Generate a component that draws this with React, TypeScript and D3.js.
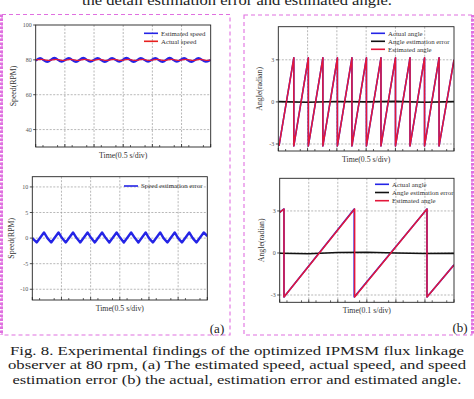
import React from 'react';
import * as d3 from 'd3';

const W = 474;
const H = 399;
const SERIF = '"Liberation Serif", "Times New Roman", serif';
const PI = 3.14;

// (a) top: speed, time in s (0.5 s/div)
const speedTicks = [40, 60, 80, 100];
const estimatedSpeed: [number, number][] = [
  [0, 79.6], [0.074, 81], [0.197, 78.8], [0.321, 81.1], [0.444, 78.9], [0.568, 81],
  [0.691, 78.8], [0.815, 81.1], [0.938, 78.9], [1.062, 81], [1.185, 78.8], [1.309, 81],
  [1.432, 78.9], [1.556, 81.1], [1.679, 78.8], [1.803, 81], [1.926, 78.9], [2.05, 81],
  [2.173, 78.8], [2.297, 81.1], [2.42, 78.9], [2.544, 81], [2.667, 78.8], [2.791, 81],
  [2.914, 78.9], [3, 80],
];
const actualSpeed: [number, number][] = [
  [0, 80], [0.1, 80.3], [0.22, 79.7], [0.35, 80.3], [0.47, 79.7], [0.6, 80.3],
  [0.72, 79.7], [0.84, 80.3], [0.97, 79.7], [1.09, 80.3], [1.21, 79.7], [1.34, 80.3],
  [1.46, 79.7], [1.58, 80.3], [1.71, 79.7], [1.83, 80.3], [1.95, 79.7], [2.08, 80.3],
  [2.2, 79.7], [2.33, 80.3], [2.45, 79.7], [2.57, 80.3], [2.7, 79.7], [2.82, 80.3],
  [2.94, 79.7], [3, 80],
];

// (a) bottom: speed estimation error
const errTicks = [-10, -5, 0, 5, 10];
const speedError: [number, number][] = [
  [0, 0], [0.075, -0.85], [0.2, 1.1], [0.26, 0], [0.324, -0.85], [0.449, 1.1], [0.51, 0], [0.573, -0.85],
  [0.698, 1.1], [0.76, 0], [0.822, -0.85], [0.947, 1.1], [1.01, 0], [1.071, -0.85], [1.196, 1.1], [1.26, 0], [1.32, -0.85],
  [1.445, 1.1], [1.51, 0], [1.569, -0.85], [1.694, 1.1], [1.76, 0], [1.818, -0.85], [1.943, 1.1], [2.0, 0], [2.067, -0.85],
  [2.192, 1.1], [2.25, 0], [2.316, -0.85], [2.441, 1.1], [2.5, 0], [2.565, -0.85], [2.69, 1.1], [2.75, 0], [2.814, -0.85],
  [2.939, 1.1], [3, 0.4],
];

// (b) angles
const angleTicks = [-3, 0, 3];
const angleDropsTop = [0.265, 0.513, 0.761, 1.009, 1.257, 1.505, 1.753, 2.001, 2.249, 2.497, 2.745];
const angleStartTop: [number, number] = [0.012, -PI];
const angleEndTop: [number, number] = [3, 3.0];
const angleErrTop: [number, number][] = [
  [0, 0.02], [0.5, -0.03], [1, 0.03], [1.5, 0], [2, 0.04], [2.5, -0.02], [3, 0.02],
];
const angleDropsBottom = [0.0147, 0.258, 0.507];
const actualDropsBottom = [0.0147, 0.2565, 0.507];
const angleStartBottom: [number, number] = [0, 2.9];
const angleEndBottom: [number, number] = [0.6, -0.85];
const angleErrBottom: [number, number][] = [
  [0, -0.02], [0.1, -0.05], [0.2, 0.03], [0.3, 0.05], [0.4, 0], [0.5, -0.04], [0.6, -0.03],
];

const captionLines = [
  'Fig. 8. Experimental findings of the optimized IPMSM flux linkage',
  'observer at 80 rpm, (a) The estimated speed, actual speed, and speed',
  'estimation error (b) the actual, estimation error and estimated angle.',
];
const captionWidths = [454, 458, 449];
const topCut = 'the detail estimation error and estimated angle.';

const BLUE = '#2424e6';
const RED = '#e3173a';
const PINK = '#e070e0';

function saw(start: [number, number], drops: number[], end: [number, number]): [number, number][] {
  const pts: [number, number][] = [start];
  drops.forEach((d) => {
    pts.push([d, PI], [d, -PI]);
  });
  pts.push(end);
  return pts;
}

type Series = { data: [number, number][]; color: string; width: number; curve?: boolean };
type Box = { x: number; y: number; w: number; h: number };

function Plot(props: {
  id: string;
  box: Box;
  xDomain: [number, number];
  yDomain: [number, number];
  yTicks: number[];
  series: Series[];
  legend: { label: string; color: string }[];
  legendAt: [number, number];
  legendStep: number;
  xLabel: string;
  yLabel: string;
  yLabelDx: number;
}) {
  const { id, box, xDomain, yDomain, yTicks, series, legend, legendAt, legendStep } = props;
  const x = d3.scaleLinear().domain(xDomain).range([box.x, box.x + box.w]);
  const y = d3.scaleLinear().domain(yDomain).range([box.y + box.h, box.y]);
  const span = xDomain[1] - xDomain[0];
  const majors = d3.range(7).map((i) => xDomain[0] + (span * i) / 6);
  const minors = d3.range(12).map((i) => xDomain[0] + (span * (i + 0.5)) / 12);
  const straight = d3.line<[number, number]>().x((d) => x(d[0])).y((d) => y(d[1]));
  const smooth = d3
    .line<[number, number]>()
    .x((d) => x(d[0]))
    .y((d) => y(d[1]))
    .curve(d3.curveMonotoneX);
  const bottom = box.y + box.h;

  return (
    <g>
      <defs>
        <clipPath id={id}>
          <rect x={box.x} y={box.y} width={box.w} height={box.h} />
        </clipPath>
      </defs>
      {/* grid */}
      {majors.slice(1, -1).map((t) => (
        <line key={'gx' + t} x1={x(t)} x2={x(t)} y1={box.y} y2={bottom} stroke="#9a9a9a" strokeWidth={0.7} strokeDasharray="2,1.5" />
      ))}
      {yTicks
        .filter((v) => y(v) > box.y + 1 && y(v) < bottom - 1)
        .map((v) => (
          <line key={'gy' + v} x1={box.x} x2={box.x + box.w} y1={y(v)} y2={y(v)} stroke="#9a9a9a" strokeWidth={0.7} strokeDasharray="2,1.5" />
        ))}
      {/* series */}
      <g clipPath={`url(#${id})`}>
        {series.map((s, i) => (
          <path key={i} d={(s.curve ? smooth : straight)(s.data) || ''} fill="none" stroke={s.color} strokeWidth={s.width} strokeLinejoin="round" />
        ))}
      </g>
      {/* frame */}
      <rect x={box.x} y={box.y} width={box.w} height={box.h} fill="none" stroke="#222" strokeWidth={0.9} />
      {majors.map((t) => (
        <line key={'tx' + t} x1={x(t)} x2={x(t)} y1={bottom} y2={bottom - 3} stroke="#222" strokeWidth={0.8} />
      ))}
      {minors.map((t) => (
        <line key={'mx' + t} x1={x(t)} x2={x(t)} y1={bottom} y2={bottom - 2} stroke="#222" strokeWidth={0.7} />
      ))}
      {yTicks.map((v) => (
        <g key={'ty' + v}>
          <line x1={box.x - 2.5} x2={box.x} y1={y(v)} y2={y(v)} stroke="#222" strokeWidth={0.8} />
          <text x={box.x - 4} y={y(v) + 2} fontSize={6} textAnchor="end" fill="#555" fontFamily={SERIF}>
            {v}
          </text>
        </g>
      ))}
      {/* legend */}
      {legend.map((l, i) => (
        <g key={l.label}>
          <line
            x1={legendAt[0]}
            x2={legendAt[0] + 14}
            y1={legendAt[1] + i * legendStep}
            y2={legendAt[1] + i * legendStep}
            stroke={l.color}
            strokeWidth={1.6}
          />
          <text x={legendAt[0] + 17} y={legendAt[1] + i * legendStep + 2.3} fontSize={6.8} fill="#333" fontFamily={SERIF}>
            {l.label}
          </text>
        </g>
      ))}
      <text x={box.x + box.w / 2} y={bottom + 10.5} fontSize={7.8} textAnchor="middle" fill="#333" fontFamily={SERIF}>
        {props.xLabel}
      </text>
      <text
        transform={`translate(${box.x + props.yLabelDx},${box.y + box.h / 2}) rotate(-90)`}
        fontSize={7.8}
        textAnchor="middle"
        fill="#333"
        fontFamily={SERIF}
      >
        {props.yLabel}
      </text>
    </g>
  );
}

export default function App() {
  return (
    <svg width={W} height={H} style={{ position: 'absolute', left: 0, top: 0, background: '#fff' }}>
      <rect width={W} height={H} fill="#fff" />
      <text x={W / 2} y={5} fontSize={15.5} textAnchor="middle" fontFamily={SERIF} fill="#222" textLength={310} lengthAdjust="spacingAndGlyphs">
        {topCut}
      </text>

      {/* panel borders */}
      <rect x={2} y={14.5} width={228} height={320.5} fill="none" stroke={PINK} strokeWidth={1.1} strokeDasharray="4,3" />
      <line x1={1.5} x2={1.5} y1={14.5} y2={335} stroke={PINK} strokeWidth={3} strokeDasharray="2.5,1.5" />
      <rect x={244} y={15} width={228} height={320} fill="none" stroke={PINK} strokeWidth={1.1} strokeDasharray="4,3" />
      <line x1={472.5} x2={472.5} y1={15} y2={335} stroke={PINK} strokeWidth={3} strokeDasharray="2.5,1.5" />

      <Plot
        id="c1"
        box={{ x: 35.7, y: 25, w: 175, h: 122 }}
        xDomain={[0, 3]}
        yDomain={[30, 100]}
        yTicks={speedTicks}
        series={[
          { data: estimatedSpeed, color: BLUE, width: 2.2, curve: true },
          { data: actualSpeed, color: RED, width: 1.2, curve: true },
        ]}
        legend={[
          { label: 'Estimated speed', color: BLUE },
          { label: 'Actual speed', color: '#e8201f' },
        ]}
        legendAt={[144, 33.3]}
        legendStep={8}
        xLabel="Time(0.5 s/div)"
        yLabel="Speed(RPM)"
        yLabelDx={-20}
      />
      <Plot
        id="c2"
        box={{ x: 32.3, y: 176.7, w: 175, h: 123.3 }}
        xDomain={[0, 3]}
        yDomain={[-12.1, 12]}
        yTicks={errTicks}
        series={[{ data: speedError, color: BLUE, width: 2.4 }]}
        legend={[{ label: 'Speed estimation error', color: BLUE }]}
        legendAt={[124, 186]}
        legendStep={8}
        xLabel="Time(0.5 s/div)"
        yLabel="Speed(RPM)"
        yLabelDx={-18.5}
      />
      <Plot
        id="c3"
        box={{ x: 278.3, y: 26.7, w: 175.7, h: 124.3 }}
        xDomain={[0, 3]}
        yDomain={[-3.5, 5.36]}
        yTicks={angleTicks}
        series={[
          { data: saw(angleStartTop, angleDropsTop, angleEndTop), color: BLUE, width: 1.6 },
          { data: angleErrTop, color: '#111', width: 1.6 },
          { data: saw(angleStartTop, angleDropsTop, angleEndTop), color: RED, width: 1.5 },
        ]}
        legend={[
          { label: 'Actual angle', color: BLUE },
          { label: 'Angle estimation error', color: '#111' },
          { label: 'Estimated angle', color: RED },
        ]}
        legendAt={[371, 33.3]}
        legendStep={8}
        xLabel="Time(0.5 s/div)"
        yLabel="Angle(radian)"
        yLabelDx={-16}
      />
      <Plot
        id="c4"
        box={{ x: 279.7, y: 178.3, w: 174.3, h: 124 }}
        xDomain={[0, 0.6]}
        yDomain={[-3.52, 5.33]}
        yTicks={angleTicks}
        series={[
          { data: saw(angleStartBottom, actualDropsBottom, angleEndBottom), color: BLUE, width: 1.6 },
          { data: angleErrBottom, color: '#111', width: 1.6 },
          { data: saw(angleStartBottom, angleDropsBottom, angleEndBottom), color: RED, width: 1.5 },
        ]}
        legend={[
          { label: 'Actual angle', color: BLUE },
          { label: 'Angle estimation error', color: '#111' },
          { label: 'Estimated angle', color: RED },
        ]}
        legendAt={[375, 184.3]}
        legendStep={8.2}
        xLabel="Time(0.1 s/div)"
        yLabel="Angle(radian)"
        yLabelDx={-16}
      />

      <text x={217} y={333} fontSize={13} textAnchor="middle" fontFamily={SERIF} fill="#222">(a)</text>
      <text x={460} y={332} fontSize={13} textAnchor="middle" fontFamily={SERIF} fill="#222">(b)</text>

      {captionLines.map((s, i) => (
        <text
          key={i}
          x={W / 2}
          y={354.5 + i * 14.8}
          fontSize={13.3}
          textAnchor="middle"
          fontFamily={SERIF}
          fill="#222"
          textLength={captionWidths[i]}
          lengthAdjust="spacingAndGlyphs"
        >
          {s}
        </text>
      ))}
    </svg>
  );
}
